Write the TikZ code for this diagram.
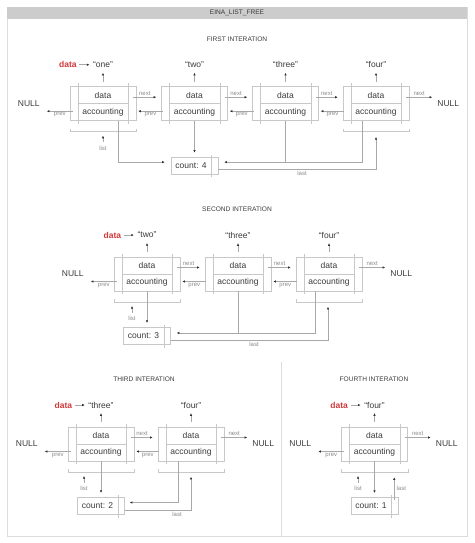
\documentclass[tikz,border=0pt]{standalone}
\usepackage{fontspec}
\setmainfont{Liberation Sans}
\usetikzlibrary{arrows.meta,positioning,calc}
\definecolor{framegray}{HTML}{C8C8C8}
\definecolor{linegray}{HTML}{A8A8A8}
\definecolor{tipgray}{HTML}{303030}
\definecolor{txt}{HTML}{3A3A3A}
\definecolor{lblgray}{HTML}{8A8A8A}
\definecolor{reddata}{HTML}{D0383A}
\definecolor{hdrgray}{HTML}{CCCCCC}
\definecolor{outergray}{HTML}{DCDCDC}
\tikzset{
  lframe/.style={draw=framegray, line width=0.5pt, minimum width=66pt, minimum height=34pt, inner sep=0pt},
  cell/.style={font=\fontsize{8.5}{10}\selectfont, text=txt, inner sep=0pt},
  fline/.style={draw=framegray, line width=0.5pt},
  conn/.style={draw=linegray, line width=0.5pt, -{Latex[length=2.6pt,width=2.4pt,color=tipgray]}},
  plain/.style={draw=linegray, line width=0.5pt},
  lab/.style={font=\fontsize{6}{7}\selectfont, text=lblgray, inner sep=0pt},
  val/.style={font=\fontsize{8.5}{10}\selectfont, text=txt, inner sep=0pt},
  redd/.style={font=\fontsize{8.5}{10}\selectfont\bfseries, text=reddata, inner sep=0pt},
  nullt/.style={font=\fontsize{8.5}{10}\selectfont, text=txt, inner sep=0pt},
  ttl/.style={font=\fontsize{6.6}{8}\selectfont, text=txt, inner sep=0pt},
  cbox/.style={draw=framegray, line width=0.5pt, minimum width=47pt, minimum height=17pt, inner sep=0pt}
}
% list node: name, cx, top
\newcommand\LNode[3]{%
  \node[lframe] (#1) at (#2,#3+17) {};
  \node[cell] (#1d) at (#2,#3+8.5) {data};
  \node[cell] (#1a) at (#2,#3+25.5) {accounting};
  \draw[fline] ($(#1.north west)+(8,-3)$) -- ($(#1.south west)+(8,3)$);
  \draw[fline] ($(#1.north east)+(-8,-3)$) -- ($(#1.south east)+(-8,3)$);
  \draw[fline] ($(#1.west)+(8,0)$) -- ($(#1.east)+(-8,0)$);
}
% value above a node: node, text
\newcommand\LValue[2]{%
  \node[val] (#1v) at ($(#1.north)+(0,-21.7)$) {#2};
  \draw[conn] ($(#1.north)+(0,-4.7)$) -- ($(#1v.south)+(0,4.8)$);
}
% red data pointer
\newcommand\LRed[1]{%
  \node[redd, left=16pt of #1v] (#1r) {data};
  \draw[conn] ($(#1r.east)+(2.5,0)$) -- ($(#1v.west)+(-3.5,0)$);
}
\newcommand\LNext[2]{%
  \draw[conn] ($(#1.east)+(-3,-6.5)$) -- node[lab,above=1.2pt]{next} ($(#2.west)+(-5,-6.5)$);
}
\newcommand\LPrev[2]{%
  \draw[conn] ($(#2.west)+(1.5,7.5)$) -- node[lab,below=1.2pt]{prev} ($(#1.east)+(2,7.5)$);
}
\newcommand\LBracket[1]{%
  \coordinate (#1b) at ($(#1.south)+(0,10.5)$);
  \draw[fline] ($(#1.south west)+(0,8)$) -- ($(#1.south west)+(0,10.5)$) -- ($(#1.south east)+(0,10.5)$) -- ($(#1.south east)+(0,8)$);
}
% list pointer: node, x offset
\newcommand\LList[2]{%
  \coordinate (#1lf) at ($(#1b)+(#2,11)$);
  \draw[conn] (#1lf) -- ($(#1b)+(#2,4.2)$);
  \node[lab] (#1lt) at ($(#1b)+(#2,16.5)$) {list};
}
% NULL at both ends: first node, last node, suffix
\newcommand\LNulls[3]{%
  \node[nullt] (nl#3) at ($(#1.west)+(-41,0)$) {NULL};
  \draw[conn] ($(#1.west)+(3,7.5)$) -- node[lab,below=1.2pt]{prev} ($(nl#3.east)+(7,7.5)$);
  \node[nullt] (nr#3) at ($(#2.east)+(39,0)$) {NULL};
  \draw[conn] ($(#2.east)+(-3,-6.5)$) -- node[lab,above=1.2pt]{next} ($(nr#3.west)+(-5,-6.5)$);
}
% count box: name, node above, number
\newcommand\LCount[3]{%
  \node[cbox] (#1) at ($(#2.south)+(0,44.5)$) {};
  \node[cell] (#1t) at ($(#1.center)+(-3.5,0)$) {count: #3};
  \draw[fline] ($(#1.north east)+(-7,-2)$) -- ($(#1.south east)+(-7,3)$);
  \draw[conn] (#2.south) -- ($(#1.north)+(0,-4)$);
}
\begin{document}
\begin{tikzpicture}[x=1pt,y=-1pt]
\useasboundingbox (0,0) rectangle (474,543);
% outer frame and header
\draw[outergray, line width=0.8pt] (7,7) rectangle (467,536);
\fill[hdrgray] (7,7) rectangle (467,19);
\node[ttl] (hdr) at (237,13.2) {EINA\_LIST\_FREE};
\draw[outergray, line width=0.6pt] (281,362) -- (281,536);

% ---------- FIRST ITERATION ----------
\node[ttl] (t1) at (237,39) {FIRST INTERATION};
\LNode{n1}{103}{86.7}
\LNode{n2}{194.5}{86.7}
\LNode{n3}{285.5}{86.7}
\LNode{n4}{376}{86.7}
\LValue{n1}{“one”}
\LRed{n1}
\LValue{n2}{“two”}
\LValue{n3}{“three”}
\LValue{n4}{“four”}
\LNext{n1}{n2}\LPrev{n1}{n2}
\LNext{n2}{n3}\LPrev{n2}{n3}
\LNext{n3}{n4}\LPrev{n3}{n4}
\LNulls{n1}{n4}{1}
\LBracket{n1}
\LBracket{n4}
\LList{n1}{0}
\LCount{c1}{n2}{4}
\draw[conn] ($(n1.south)+(15,0)$) |- ($(c1.west)+(-6,-3.3)$);
\coordinate (j1a) at (n3.south |- c1.east);
\coordinate (j1) at ($(j1a)+(0,-3.3)$);
\draw[conn] (n3.south) |- ($(c1.east)+(6,-3.3)$);
\draw[plain] ($(n4.south)+(-14,0)$) |- (j1);
\draw[conn] ($(c1.east)+(0,4)$) -| ($(n4b)+(0,5.5)$);
\node[lab] (last1) at (302,173.5) {last};

% ---------- SECOND ITERATION ----------
\node[ttl] (t2) at (237,209) {SECOND INTERATION};
\LNode{na}{147}{257}
\LNode{nb}{238}{257}
\LNode{nc}{329}{257}
\LValue{na}{“two”}
\LRed{na}
\LValue{nb}{“three”}
\LValue{nc}{“four”}
\LNext{na}{nb}\LPrev{na}{nb}
\LNext{nb}{nc}\LPrev{nb}{nc}
\LNulls{na}{nc}{2}
\LBracket{na}
\LBracket{nc}
\LList{na}{-15}
\LCount{c2}{na}{3}
\coordinate (j2a) at (nb.south |- c2.east);
\coordinate (j2) at ($(j2a)+(0,-2.8)$);
\draw[conn] (nb.south) |- ($(c2.east)+(6,-2.8)$);
\draw[plain] ($(nc.south)+(-14,0)$) |- (j2);
\draw[conn] ($(c2.east)+(0,4)$) -| ($(ncb)+(-1,5)$);
\node[lab] (last2) at (254,344.5) {last};

% ---------- THIRD ITERATION ----------
\node[ttl] (t3) at (144,379) {THIRD INTERATION};
\LNode{np}{101}{427}
\LNode{nq}{191}{427}
\LValue{np}{“three”}
\LRed{np}
\LValue{nq}{“four”}
\LNext{np}{nq}\LPrev{np}{nq}
\LNulls{np}{nq}{3}
\LBracket{np}
\LBracket{nq}
\LList{np}{-17}
\LCount{c3}{np}{2}
\draw[conn] ($(nq.south)+(-13,0)$) |- ($(c3.east)+(5,-3.3)$);
\draw[conn] ($(c3.east)+(0,4)$) -| ($(nqb)+(0,5)$);
\node[lab] (last3) at (177,514.5) {last};

% ---------- FOURTH ITERATION ----------
\node[ttl] (t4) at (374,379) {FOURTH INTERATION};
\LNode{nf}{374.5}{427}
\LValue{nf}{“four”}
\LRed{nf}
\node[nullt] (nl4) at ($(nf.west)+(-41,0)$) {NULL};
\draw[conn] ($(nf.west)+(3,7.5)$) -- node[lab,below=1.2pt]{prev} ($(nl4.east)+(7,7.5)$);
\node[nullt] (nr4) at ($(nf.east)+(39,0)$) {NULL};
\draw[conn] ($(nf.east)+(-3,-6.5)$) -- node[lab,above=1.2pt]{next} ($(nr4.west)+(-5,-6.5)$);
\LBracket{nf}
\LList{nf}{-16.5}
\LCount{c4}{nf}{1}
\coordinate (c4l) at ($(c4.north east)+(-4,3)$);
\draw[conn] (c4l) -- ($(c4l |- nfb)+(0,5.5)$);
\node[lab] (last4) at ($(c4l |- nflt)+(7,0)$) {last};
\end{tikzpicture}
\end{document}
